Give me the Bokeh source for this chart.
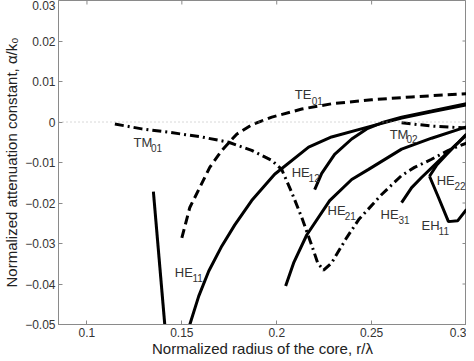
import math
from bokeh.plotting import figure
from bokeh.models import FixedTicker, Span
from bokeh.core.properties import value
from bokeh.embed import file_html
from bokeh.resources import INLINE

# ---- data ----
x_ticks = [0.1, 0.15, 0.2, 0.25, 0.3]
x_tick_labels = ["0.1", "0.15", "0.2", "0.25", "0.3"]
y_ticks = [-0.05, -0.04, -0.03, -0.02, -0.01, 0.0, 0.01, 0.02, 0.03]
y_tick_labels = ["\u22120.05", "\u22120.04", "\u22120.03", "\u22120.02", "\u22120.01", "0", "0.01", "0.02", "0.03"]

steep_x = [0.135, 0.141]
steep_y = [-0.0172, -0.0500]

he11_x = [0.1542, 0.1589, 0.1642, 0.1711, 0.1779, 0.1868, 0.1989, 0.2168, 0.2289, 0.2484, 0.2658, 0.2816, 0.300]
he11_y = [-0.0500, -0.0430, -0.0368, -0.0306, -0.0254, -0.0194, -0.0129, -0.0062, -0.0037, -0.0012, 0.0010, 0.0025, 0.0042]

he12_x = [0.2200, 0.2237, 0.2305, 0.2395, 0.2474, 0.2553, 0.2658, 0.2816, 0.300]
he12_y = [-0.0167, -0.0127, -0.0080, -0.0042, -0.0017, -0.0002, 0.0012, 0.0027, 0.0045]

he21_x = [0.2047, 0.2089, 0.2158, 0.2279, 0.2395, 0.2484, 0.2658, 0.2816, 0.300]
he21_y = [-0.0405, -0.0348, -0.0279, -0.0194, -0.0142, -0.0117, -0.0067, -0.0040, -0.0012]

he31_x = [0.2658, 0.2711, 0.2763, 0.2868, 0.2958, 0.300]
he31_y = [-0.0199, -0.0162, -0.0137, -0.0090, -0.0050, -0.0030]

he22_x = [0.2805, 0.2842, 0.2895, 0.2947, 0.300]
he22_y = [-0.0134, -0.0107, -0.0080, -0.0055, -0.0032]

eh11_x = [0.2805, 0.2853, 0.2905, 0.2953, 0.300]
eh11_y = [-0.0134, -0.0187, -0.0246, -0.0244, -0.0216]

te01_x = [0.150, 0.1542, 0.1589, 0.1647, 0.1711, 0.1789, 0.1868, 0.1974, 0.2132, 0.2289, 0.250, 0.2711, 0.300]
te01_y = [-0.0286, -0.0211, -0.0167, -0.0112, -0.0070, -0.0030, -0.0007, 0.0012, 0.0032, 0.0045, 0.0055, 0.0062, 0.0070]

tm01_x = [0.1147, 0.1289, 0.1426, 0.1605, 0.1747, 0.1868, 0.1974, 0.2026, 0.2079, 0.2132, 0.2184, 0.2216,
          0.2247, 0.2289, 0.2368, 0.2432, 0.2553, 0.2658, 0.2726, 0.2816, 0.2905, 0.300]
tm01_y = [-0.0005, -0.0017, -0.0025, -0.0037, -0.0050, -0.0070, -0.0095, -0.0117, -0.0174, -0.0236, -0.0304, -0.0348,
          -0.0366, -0.0348, -0.0286, -0.0241, -0.0179, -0.0132, -0.0112, -0.0092, -0.0070, -0.0052]

tm02_x = [0.2658, 0.2816, 0.300]
tm02_y = [-0.0002, -0.0010, -0.0015]

# label texts
lab_main = ["TE", "TM", "HE", "HE", "HE", "TM", "HE", "HE", "EH"]
lab_sub = ["01", "01", "12", "11", "21", "02", "31", "22", "11"]
lab_x = [0.2095, 0.1245, 0.2079, 0.1463, 0.2268, 0.2595, 0.2547, 0.2843, 0.2763]
lab_y = [0.0067, -0.0050, -0.0124, -0.0371, -0.0219, -0.0030, -0.0229, -0.0144, -0.0256]
sub_x = [0.2184, 0.1337, 0.2168, 0.1556, 0.2358, 0.2684, 0.2642, 0.2937, 0.2853]
sub_y = [0.0052, -0.0065, -0.0139, -0.0386, -0.0231, -0.0042, -0.0241, -0.0157, -0.0269]

X0, X1 = 0.085, 0.3
Y0, Y1 = -0.05, 0.03

FONT = "Liberation Sans"
AX = "#8a8a8a"
TXT = "#333333"

p = figure(frame_width=408, frame_height=324, x_range=(X0, X1), y_range=(Y0, Y1),
           output_backend="svg", toolbar_location=None,
           min_border_left=0, min_border_right=0, min_border_top=0, min_border_bottom=0)
p.grid.visible = False
p.outline_line_color = AX
p.outline_line_width = 1

for ax in (p.xaxis[0], p.yaxis[0]):
    ax.axis_line_color = AX
    ax.major_tick_line_color = AX
    ax.major_tick_in = 4
    ax.major_tick_out = 0
    ax.minor_tick_line_color = None
    ax.major_label_text_font = FONT
    ax.major_label_text_font_size = "12px"
    ax.major_label_text_color = TXT
    ax.axis_label_text_font = FONT
    ax.axis_label_text_font_size = "15px"
    ax.axis_label_text_font_style = "normal"
    ax.axis_label_text_color = "#222222"

p.xaxis.ticker = FixedTicker(ticks=x_ticks)
p.xaxis.major_label_overrides = dict(zip(x_ticks, x_tick_labels))
p.yaxis.ticker = FixedTicker(ticks=y_ticks)
p.yaxis.major_label_overrides = dict(zip(y_ticks, y_tick_labels))
p.xaxis.axis_label = "Normalized radius of the core, r/\u03bb"
p.yaxis.axis_label = "Normalized attenuation constant, \u03b1/k\u2080"
p.xaxis.major_label_standoff = 3
p.yaxis.major_label_standoff = 3
p.xaxis.axis_label_standoff = 0
p.yaxis.axis_label_standoff = 2

# box ticks on the top and right edges (inward)
p.ray(x=x_ticks, y=[Y1] * len(x_ticks), length=4, length_units="screen", angle=-math.pi / 2,
      line_color=AX, line_width=1)
p.ray(x=[X1] * len(y_ticks), y=y_ticks, length=4, length_units="screen", angle=math.pi,
      line_color=AX, line_width=1)

p.add_layout(Span(location=0, dimension="width", line_color="#b0b0b0", line_width=1, line_dash="1 3"))

LW = 3
p.line(steep_x, steep_y, line_color="black", line_width=LW)
p.line(he11_x, he11_y, line_color="black", line_width=LW)
p.line(he12_x, he12_y, line_color="black", line_width=LW)
p.line(he21_x, he21_y, line_color="black", line_width=LW)
p.line(he31_x, he31_y, line_color="black", line_width=LW)
p.line(he22_x, he22_y, line_color="black", line_width=LW)
p.line(eh11_x, eh11_y, line_color="black", line_width=LW)
p.line(te01_x, te01_y, line_color="black", line_width=LW, line_dash="9 5")
p.line(tm01_x, tm01_y, line_color="black", line_width=LW, line_dash="9 4 2 4")
p.line(tm02_x, tm02_y, line_color="black", line_width=LW, line_dash="9 4 2 4")

p.text(lab_x, lab_y, text=lab_main, text_font=value(FONT), text_font_size="13px",
       text_color=TXT, text_align="left", text_baseline="alphabetic")
p.text(sub_x, sub_y, text=lab_sub, text_font=value(FONT), text_font_size="10px",
       text_color=TXT, text_align="left", text_baseline="alphabetic")

open("out.html", "w").write(file_html(p, INLINE))
